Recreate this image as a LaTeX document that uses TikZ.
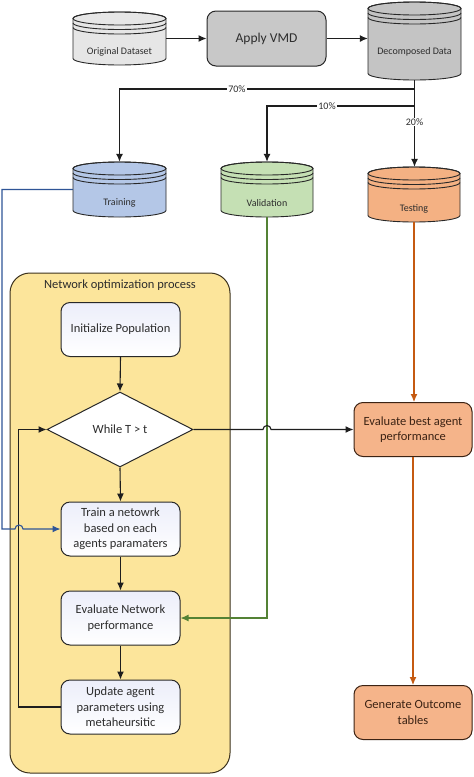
\documentclass[tikz,border=0pt]{standalone}
\usepackage{fontspec}
\setmainfont{Carlito}
\usetikzlibrary{shapes.geometric,arrows.meta,calc}
\definecolor{linec}{RGB}{30,30,30}
\definecolor{nodeb}{RGB}{40,40,40}
\definecolor{txt}{RGB}{45,45,45}
\definecolor{lav}{RGB}{236,238,250}
\definecolor{origfill}{RGB}{230,230,230}
\definecolor{decfill}{RGB}{196,196,196}
\definecolor{vmdfill}{RGB}{200,200,200}
\definecolor{trnfill}{RGB}{180,199,231}
\definecolor{valfill}{RGB}{197,224,180}
\definecolor{tstfill}{RGB}{244,177,131}
\definecolor{orfill}{RGB}{245,180,138}
\definecolor{panelfill}{RGB}{252,229,155}
\definecolor{panelb}{RGB}{60,50,30}
\definecolor{bluel}{RGB}{47,85,151}
\definecolor{greenl}{RGB}{84,130,53}
\definecolor{orangel}{RGB}{197,90,17}
\definecolor{brownt}{RGB}{60,35,20}
\newcommand{\dbcyl}[8]{%
  \pgfmathsetmacro\cylcx{(#2+#3)/2}%
  \pgfmathsetmacro\cylrx{(#3-#2)/2}%
  \pgfmathsetmacro\cylw{#3-#2}%
  \pgfmathsetmacro\cylyt{-(#4)-6.5}%
  \pgfmathsetmacro\cylyb{-(#5)+6.5}%
  \pgfmathsetmacro\cylcy{-((#4)+(#5))/2}%
  \pgfmathsetmacro\cylh{(#5)-(#4)}%
  \filldraw[cylline, fill=#6] (#2,\cylyt) -- (#2,\cylyb)
     arc[start angle=180,end angle=360,x radius=\cylrx pt,y radius=6.5pt]
     -- (#3,\cylyt)
     arc[start angle=0,end angle=180,x radius=\cylrx pt,y radius=6.5pt] -- cycle;
  \draw[cylline] (\cylcx,\cylyt) ellipse[x radius=\cylrx pt,y radius=6.5pt];
  \draw[cylline] (#2,\cylyt-4.5) arc[start angle=180,end angle=360,x radius=\cylrx pt,y radius=6.5pt];
  \draw[cylline] (#2,\cylyt-9) arc[start angle=180,end angle=360,x radius=\cylrx pt,y radius=6.5pt];
  \node[inner sep=0pt, minimum width=\cylw pt, minimum height=\cylh pt] (#1) at (\cylcx,\cylcy) {};
  \node[cyltext] (#1t) at (\cylcx,-#8) {#7};
}
\begin{document}
\begin{tikzpicture}[x=1pt,y=1pt,
  edge/.style={draw=linec, line width=1.1pt},
  arr/.style={edge, -{Latex[length=8pt,width=7pt]}},
  blueln/.style={draw=bluel, line width=1.1pt, -{Latex[length=8pt,width=7pt]}},
  greenln/.style={draw=greenl, line width=1.1pt, -{Latex[length=8pt,width=7pt]}},
  orangeln/.style={draw=orangel, line width=1.1pt, -{Latex[length=8pt,width=7pt]}},
  cylline/.style={draw=nodeb, line width=0.9pt},
  cyltext/.style={text=txt, font=\fontsize{10}{12}\selectfont, inner sep=0pt},
  pct/.style={fill=white, text=txt, font=\fontsize{10}{12}\selectfont, inner sep=1pt},
  proc/.style={draw=nodeb, line width=1pt, rounded corners=9pt, align=center, text=txt,
    font=\fontsize{12.5}{15.5}\selectfont, inner sep=0pt, minimum width=119pt, minimum height=54pt,
    top color=lav, bottom color=white},
  orproc/.style={proc, draw=brownt, top color=orfill, bottom color=orfill, fill=orfill, text=brownt, minimum width=118pt},
  vmdbox/.style={proc, top color=vmdfill, bottom color=vmdfill, fill=vmdfill, font=\fontsize{13.5}{16}\selectfont, minimum height=55pt},
  panel/.style={draw=panelb, line width=1pt, fill=panelfill, rounded corners=20pt, minimum width=220pt, minimum height=500pt, inner sep=0pt},
  dec/.style={diamond, draw=nodeb, line width=1pt, fill=white, text=txt, font=\fontsize{12.5}{15.5}\selectfont,
    inner sep=0pt, minimum width=146pt, minimum height=75pt, aspect=2}
]
\useasboundingbox (0,0) rectangle (474,-777);
\fill[white] (0,0) rectangle (474,-777);

% panel
\node[panel] (panel) at (120,-523) {};
\node[text=txt, font=\fontsize{12.5}{15}\selectfont] (ptitle) at (120,-285) {Network optimization process};

% top row
\dbcyl{orig}{73}{166}{12}{65}{origfill}{Original Dataset}{52}
\dbcyl{dec}{368}{461}{2}{80}{decfill}{Decomposed Data}{52}
\node[vmdbox] (vmd) at (266.5,-38.5) {Apply VMD};

% datasets
\dbcyl{trn}{73}{166}{162}{217}{trnfill}{Training}{203}
\dbcyl{val}{221}{313}{162}{217}{valfill}{Validation}{203}
\dbcyl{tst}{368}{460}{167}{222}{tstfill}{Testing}{209}

% process nodes
\node[proc] (init) at (120.5,-329.5) {Initialize Population};
\node[dec] (dia) at (120,-429.5) {While T > t};
\node[proc] (trnn) at (120.5,-529) {Train a netowrk\\based on each\\agents paramaters};
\node[proc] (evn) at (120.5,-618) {Evaluate Network\\performance};
\node[proc] (upd) at (120.5,-707) {Update agent\\parameters using\\metaheursitic};
\node[orproc] (evb) at (413,-429.5) {Evaluate best agent\\performance};
\node[orproc] (gen) at (413,-712.5) {Generate Outcome\\tables};

% top connectors
\draw[arr] (orig.east) -- (vmd.west);
\draw[arr] (vmd.east) -- (vmd.east -| dec.west);
\draw[arr] (dec.south) -- (dec.south |- tst.north);
\draw[arr] (dec.south |- 0,-89) -| (trn.north);
\draw[arr] (dec.south |- 0,-106) -| (val.north);
\node[pct] (p70) at (237,-89) {70\%};
\node[pct] (p10) at (327,-106) {10\%};
\node[pct] (p20) at (414.5,-122) {20\%};

% process connectors
\draw[arr] (init.south) -- (dia.north);
\draw[arr] (dia.south) -- (trnn.north);
\draw[arr] (trnn.south) -- (evn.north);
\draw[arr] (evn.south) -- (upd.north);
\draw[arr] (upd.west) -| ($(dia.west)+(-28,0)$) -- (dia.west);

% coloured connectors
\draw[greenln] (val.south) |- (evn.east);
\draw[blueln] (trn.west) -| (trnn.west -| 2,0) -- (trnn.west -| 15,0)
   arc[start angle=180,end angle=0,radius=4pt] -- (trnn.west);
\draw[arr] (dia.east) -- (dia.east -| 263,0)
   arc[start angle=180,end angle=0,radius=4pt] -- (evb.west);
\draw[orangeln] (tst.south) -- (tst.south |- evb.north);
\draw[orangeln] (evb.south) -- (gen.north);
\end{tikzpicture}
\end{document}
